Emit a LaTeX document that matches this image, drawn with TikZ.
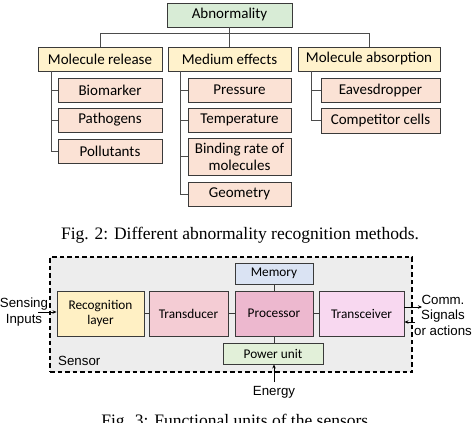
\documentclass[tikz,border=0pt]{standalone}
\usepackage{fontspec}
\setmainfont{Liberation Serif}
\newfontfamily\boxfont{Carlito}
\newfontfamily\arialfont{Liberation Sans}
\usetikzlibrary{shadows,arrows.meta}
\definecolor{cabn}{HTML}{D8ECD6}
\definecolor{ccat}{HTML}{FFF2CC}
\definecolor{cleaf}{HTML}{FBE2D5}
\definecolor{cmem}{HTML}{DAE3F3}
\definecolor{crec}{HTML}{FFF0C4}
\definecolor{ctrd}{HTML}{F4CCD4}
\definecolor{cproc}{HTML}{EDB8CF}
\definecolor{ctrx}{HTML}{F8D8F0}
\definecolor{cpow}{HTML}{E2F0D9}
\definecolor{csens}{HTML}{EDEDED}
\definecolor{cline}{HTML}{3A3A3A}
\tikzset{
  treebox/.style={draw=cline, line width=0.9pt, inner sep=1pt, align=center,
    font=\boxfont\fontsize{15}{17}\selectfont,
    drop shadow={shadow xshift=1.3pt, shadow yshift=-1.3pt, fill=black!50, opacity=0.85}},
  abnbox/.style={treebox, fill=cabn},
  catbox/.style={treebox, fill=ccat},
  leafbox/.style={treebox, fill=cleaf},
  unitbox/.style={draw=cline, line width=0.9pt, inner sep=1pt, align=center,
    font=\boxfont\fontsize{13.3}{15.5}\selectfont},
  treeline/.style={draw=black!70, line width=0.9pt},
  unitline/.style={draw=cline, line width=0.9pt},
  arr/.style={draw=black, line width=0.8pt, -{Stealth[length=4pt,width=3.5pt]}},
  plain/.style={font=\arialfont\fontsize{13.3}{15.5}\selectfont, align=center, inner sep=0pt},
  caption/.style={font=\fontsize{17.5}{19}\selectfont, inner sep=0pt}
}
\begin{document}
\begin{tikzpicture}[x=1pt,y=-1pt]
\useasboundingbox (0,0) rectangle (474,423);
% ---------- Tree ----------
\node[abnbox, minimum width=125pt, minimum height=24pt] (abn) at (229.5,15) {Abnormality};
\node[catbox, minimum width=124pt, minimum height=24pt] (mr) at (100,59) {Molecule release};
\node[catbox, minimum width=123pt, minimum height=24pt] (me) at (229.5,59) {Medium effects};
\node[catbox, minimum width=142pt, minimum height=24pt] (ma) at (369,59) {Molecule absorption};

\node[leafbox, minimum width=104pt, minimum height=24pt] (bio) at (110,90) {Biomarker};
\node[leafbox, minimum width=104pt, minimum height=24pt] (pat) at (110,120) {Pathogens};
\node[leafbox, minimum width=104pt, minimum height=24pt] (pol) at (110,151) {Pollutants};

\node[leafbox, minimum width=103pt, minimum height=24pt] (pre) at (239.5,90) {Pressure};
\node[leafbox, minimum width=103pt, minimum height=24pt] (tem) at (239.5,120) {Temperature};
\node[leafbox, minimum width=103pt, minimum height=37pt] (bin) at (239.5,156.5) {Binding rate of\\molecules};
\node[leafbox, minimum width=103pt, minimum height=24pt] (geo) at (239.5,194) {Geometry};

\node[leafbox, minimum width=119pt, minimum height=24pt] (eav) at (380.5,90) {Eavesdropper};
\node[leafbox, minimum width=119pt, minimum height=25pt] (com) at (380.5,120.5) {Competitor cells};

\coordinate (bus) at (229.5,33);
\draw[treeline] (abn.south) -- (me.north);
\draw[treeline] (bus) -| (mr.north);
\draw[treeline] (bus) -| (ma.north);

\foreach \p/\c in {mr/bio, mr/pat, mr/pol}{
  \draw[treeline] ([xshift=-6pt]\p.south -| \c.west) |- (\c.west);}
\foreach \p/\c in {me/pre, me/tem, me/bin, me/geo}{
  \draw[treeline] ([xshift=-7pt]\p.south -| \c.west) |- (\c.west);}
\foreach \p/\c in {ma/eav, ma/com}{
  \draw[treeline] ([xshift=-9pt]\p.south -| \c.west) |- (\c.west);}

\node[caption, anchor=base] (cap1) at (240,239) {Fig. 2: Different abnormality recognition methods.};

% ---------- Sensor ----------
\node[draw=black, fill=csens, line width=1.2pt, dash pattern=on 4.5pt off 3pt,
  minimum width=362pt, minimum height=115pt, inner sep=0pt] (sens) at (231,314.5) {};
\node[plain, anchor=west] (slabel) at (58,361) {Sensor};

\node[unitbox, fill=cmem, minimum width=78pt, minimum height=21pt] (mem) at (274,273.5) {Memory};
\node[unitbox, fill=crec, minimum width=87pt, minimum height=45pt] (rec) at (100.5,313.5) {Recognition\\layer};
\node[unitbox, fill=ctrd, minimum width=79pt, minimum height=45pt] (trd) at (188.5,313.5) {Transducer};
\node[unitbox, fill=cproc, minimum width=78pt, minimum height=45pt] (proc) at (274,313.5) {Processor};
\node[unitbox, fill=ctrx, minimum width=85pt, minimum height=45pt] (trx) at (361.5,313.5) {Transceiver};
\node[unitbox, fill=cpow, minimum width=100pt, minimum height=21pt] (pow) at (273,353.5) {Power unit};

\draw[unitline] (rec) -- (trd);
\draw[unitline] (trd) -- (proc);
\draw[unitline] (proc) -- (trx);
\draw[unitline] (mem) -- (proc);
\draw[unitline] (proc.south) -- (proc.south |- pow.north);

\node[plain] (sin) at (24,312) {Sensing\\Inputs};
\coordinate (sinA) at (38,312);
\draw[arr] (sinA) -- (rec.west |- sinA);

\node[plain] (comm) at (443,315) {Comm.\\Signals\\or actions};
\coordinate (outA) at (422,307);
\coordinate (inA) at (415,322);
\draw[arr] (trx.east |- outA) -- (outA);
\draw[arr] (inA) -- (trx.east |- inA);

\node[plain] (en) at (274,392) {Energy};
\coordinate (enA) at (274,382);
\draw[arr] (enA) -- (enA |- pow.south);

\node[caption, anchor=base] (cap2) at (237,426.5) {Fig. 3: Functional units of the sensors.};
\end{tikzpicture}
\end{document}
